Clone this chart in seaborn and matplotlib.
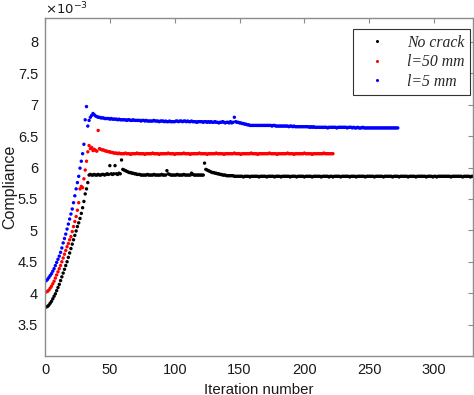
import numpy as np
import pandas as pd
import matplotlib
matplotlib.use("Agg")
import matplotlib.pyplot as plt
from matplotlib.lines import Line2D
import seaborn as sns

# ---------------- data (compliance in units of 1e-3) ----------------
no_crack = [
    3.78,3.78,3.79,3.81,3.84,3.87,3.91,3.95,3.99,4.04,
    4.09,4.14,4.20,4.26,4.32,4.38,4.44,4.50,4.57,4.64,
    4.71,4.78,4.85,4.92,4.99,5.06,5.12,5.19,5.27,5.36,
    5.46,5.58,5.66,5.76,5.88,5.89,5.88,5.88,5.89,5.88,
    5.88,5.89,5.88,5.88,5.89,5.89,5.88,5.89,5.90,5.89,
    6.03,5.90,5.89,5.90,6.03,5.90,5.89,5.91,5.90,6.12,
    5.97,5.96,5.95,5.94,5.93,5.92,5.92,5.91,5.91,5.90,
    5.90,5.89,5.89,5.89,5.88,5.88,5.88,5.88,5.88,5.89,
    5.88,5.88,5.88,5.88,5.89,5.88,5.88,5.88,5.88,5.88,
    5.89,5.88,5.88,5.88,5.95,5.90,5.89,5.88,5.88,5.88,
    5.88,5.88,5.89,5.88,5.88,5.88,5.88,5.89,5.88,5.88,
    5.88,5.88,5.88,5.91,5.89,5.88,5.88,5.88,5.88,5.88,
    5.88,5.88,5.88,6.07,5.97,5.96,5.95,5.94,5.93,5.92,
    5.92,5.91,5.91,5.90,5.90,5.89,5.89,5.88,5.88,5.88,
    5.87,5.87,5.87,5.87,5.87,5.87,5.86,5.86,5.86,5.86,
    5.86,5.86,5.86,5.85,5.86,5.86,5.86,5.86,5.85,5.86,
    5.86,5.86,5.86,5.86,5.86,5.85,5.86,5.86,5.86,5.86,
    5.86,5.85,5.86,5.86,5.86,5.86,5.86,5.85,5.86,5.86,
    5.86,5.86,5.85,5.86,5.86,5.86,5.86,5.86,5.86,5.85,
    5.86,5.86,5.86,5.86,5.85,5.86,5.86,5.86,5.86,5.86,
    5.85,5.86,5.86,5.86,5.86,5.86,5.85,5.86,5.86,5.86,
    5.86,5.86,5.86,5.85,5.86,5.86,5.86,5.86,5.86,5.85,
    5.86,5.86,5.85,5.86,5.86,5.86,5.86,5.86,5.85,5.86,
    5.86,5.86,5.86,5.86,5.86,5.85,5.86,5.86,5.86,5.86,
    5.85,5.86,5.86,5.86,5.86,5.86,5.86,5.85,5.86,5.86,
    5.86,5.86,5.86,5.86,5.85,5.86,5.86,5.86,5.86,5.86,
    5.86,5.85,5.86,5.86,5.86,5.86,5.86,5.86,5.85,5.86,
    5.86,5.86,5.86,5.85,5.86,5.86,5.86,5.86,5.86,5.86,
    5.85,5.86,5.86,5.86,5.86,5.86,5.85,5.86,5.86,5.86,
    5.86,5.86,5.86,5.86,5.85,5.86,5.86,5.86,5.86,5.85,
    5.86,5.86,5.85,5.86,5.86,5.86,5.86,5.86,5.86,5.86,
    5.86,5.86,5.86,5.85,5.86,5.86,5.86,5.86,5.86,5.86,
    5.86,5.86,5.85,5.86,5.86,5.86,5.86,5.86,5.85,5.86,
    5.86,
]

crack_50 = [
    4.02,4.02,4.03,4.05,4.08,4.11,4.15,4.19,4.24,4.29,
    4.34,4.39,4.44,4.50,4.56,4.62,4.68,4.74,4.79,4.85,
    4.90,4.98,5.06,5.14,5.22,5.32,5.44,5.66,5.70,5.68,
    5.82,5.96,6.10,6.25,6.35,6.30,6.32,6.27,6.29,6.27,
    6.26,6.59,6.30,6.29,6.28,6.28,6.27,6.26,6.26,6.25,
    6.25,6.24,6.24,6.23,6.23,6.23,6.22,6.23,6.22,6.22,
    6.22,6.22,6.23,6.22,6.22,6.22,6.21,6.22,6.22,6.22,
    6.22,6.23,6.22,6.22,6.22,6.22,6.22,6.21,6.22,6.22,
    6.22,6.22,6.22,6.23,6.22,6.22,6.22,6.22,6.21,6.22,
    6.22,6.22,6.22,6.22,6.22,6.23,6.22,6.22,6.22,6.22,
    6.21,6.22,6.22,6.22,6.22,6.22,6.22,6.23,6.22,6.22,
    6.22,6.22,6.21,6.22,6.22,6.22,6.22,6.22,6.22,6.23,
    6.22,6.22,6.22,6.22,6.22,6.21,6.22,6.22,6.22,6.22,
    6.22,6.22,6.23,6.22,6.22,6.22,6.22,6.22,6.21,6.22,
    6.22,6.22,6.22,6.22,6.22,6.22,6.23,6.22,6.22,6.22,
    6.22,6.21,6.22,6.22,6.22,6.22,6.22,6.22,6.22,6.23,
    6.22,6.22,6.22,6.22,6.21,6.22,6.22,6.22,6.22,6.22,
    6.22,6.22,6.22,6.23,6.22,6.22,6.22,6.22,6.22,6.21,
    6.22,6.22,6.22,6.22,6.22,6.22,6.22,6.23,6.22,6.22,
    6.22,6.22,6.21,6.22,6.22,6.22,6.22,6.22,6.22,6.22,
    6.23,6.22,6.22,6.22,6.22,6.22,6.21,6.22,6.22,6.22,
    6.22,6.22,6.22,6.22,6.22,6.23,6.22,6.22,6.22,6.22,
    6.22,6.22,6.22,
]

crack_5 = [
    4.19,4.20,4.22,4.25,4.28,4.31,4.35,4.39,4.44,4.49,
    4.54,4.59,4.65,4.72,4.80,4.87,4.94,5.02,5.10,5.18,
    5.26,5.34,5.44,5.55,5.66,5.76,5.86,5.99,6.10,6.22,
    6.37,6.76,6.97,6.66,6.75,6.80,6.83,6.86,6.84,6.82,
    6.81,6.80,6.80,6.79,6.79,6.79,6.78,6.78,6.78,6.78,
    6.77,6.78,6.77,6.77,6.77,6.77,6.76,6.77,6.76,6.76,
    6.76,6.76,6.76,6.75,6.76,6.76,6.75,6.75,6.76,6.75,
    6.75,6.75,6.75,6.75,6.74,6.75,6.75,6.74,6.75,6.74,
    6.74,6.74,6.74,6.74,6.75,6.74,6.74,6.74,6.73,6.74,
    6.74,6.74,6.73,6.74,6.73,6.73,6.74,6.73,6.73,6.73,
    6.73,6.74,6.74,6.73,6.74,6.74,6.73,6.74,6.74,6.73,
    6.74,6.73,6.73,6.74,6.73,6.73,6.73,6.72,6.73,6.73,
    6.73,6.73,6.72,6.73,6.73,6.72,6.73,6.72,6.73,6.72,
    6.72,6.73,6.72,6.72,6.71,6.72,6.72,6.73,6.72,6.71,
    6.72,6.72,6.71,6.73,6.71,6.72,6.80,6.73,6.72,6.72,
    6.71,6.71,6.70,6.70,6.69,6.69,6.68,6.68,6.67,6.67,
    6.67,6.67,6.67,6.67,6.67,6.67,6.67,6.67,6.67,6.67,
    6.67,6.67,6.67,6.67,6.67,6.66,6.67,6.67,6.66,6.66,
    6.66,6.66,6.66,6.66,6.66,6.66,6.66,6.66,6.65,6.66,
    6.66,6.65,6.66,6.65,6.65,6.65,6.65,6.65,6.65,6.65,
    6.65,6.65,6.65,6.65,6.64,6.65,6.64,6.65,6.64,6.64,
    6.64,6.64,6.64,6.64,6.64,6.64,6.64,6.64,6.63,6.64,
    6.64,6.64,6.64,6.64,6.64,6.63,6.64,6.64,6.64,6.64,
    6.64,6.64,6.64,6.63,6.64,6.64,6.64,6.63,6.64,6.63,
    6.63,6.64,6.63,6.63,6.63,6.64,6.63,6.63,6.63,6.63,
    6.63,6.63,6.63,6.63,6.63,6.63,6.63,6.63,6.63,6.63,
    6.63,6.63,6.63,6.63,6.63,6.63,6.63,6.63,6.63,6.63,
    6.63,6.63,6.63,
]

series_names = ["No crack", "l=50 mm", "l=5 mm"]
series_colors = ["#000000", "#ff0000", "#0000ff"]
x_ticks = [0, 50, 100, 150, 200, 250, 300]
y_ticks = [3.5, 4, 4.5, 5, 5.5, 6, 6.5, 7, 7.5, 8]
y_tick_labels = ["3.5", "4", "4.5", "5", "5.5", "6", "6.5", "7", "7.5", "8"]

frames = []
for name, vals in zip(series_names, [no_crack, crack_50, crack_5]):
    frames.append(pd.DataFrame({"Iteration": np.arange(len(vals)),
                                "Compliance": vals, "Case": name}))
df = pd.concat(frames, ignore_index=True)

# ---------------- figure ----------------
sns.set_style("white")
plt.rcParams["font.family"] = ["Liberation Sans", "DejaVu Sans"]

fig = plt.figure(figsize=(4.74, 3.95), dpi=100)
ax = fig.add_axes([45/474, 39/395, 428/474, 338/395])

sns.scatterplot(data=df, x="Iteration", y="Compliance", hue="Case",
                hue_order=series_names, palette=series_colors,
                s=6, linewidth=0, legend=False, ax=ax)

ax.set_xlim(0, 330)
ax.set_ylim(3, 8.38)
ax.set_xticks(x_ticks)
ax.set_yticks(y_ticks)
ax.set_yticklabels(y_tick_labels)

spine_col = "#8c8c8c"
for sp in ax.spines.values():
    sp.set_visible(True)
    sp.set_color(spine_col)
    sp.set_linewidth(1.0)
ax.tick_params(direction="in", length=3.5, width=0.8, color=spine_col,
               top=True, right=True, labelsize=10.5, labelcolor="#1a1a1a",
               pad=5)

ax.set_xlabel("Iteration number", fontsize=10.8, color="#1a1a1a", labelpad=4)
ax.set_ylabel("Compliance", fontsize=11.5, color="#1a1a1a")
ax.yaxis.set_label_coords(-0.066, 0.5)

ax.text(0.0, 1.002, r"$\times10^{-3}$", transform=ax.transAxes,
        ha="left", va="bottom", fontsize=9.5, color="#1a1a1a",
        fontfamily="Liberation Sans")

handles = [Line2D([0], [0], marker="o", linestyle="none", markersize=2.2,
                  markerfacecolor=c, markeredgewidth=0) for c in series_colors]
leg = ax.legend(handles, series_names, loc="upper right",
                bbox_to_anchor=(0.993, 0.967), borderaxespad=0,
                frameon=True, fancybox=False,
                edgecolor="#333333", framealpha=1, handlelength=2.4,
                handletextpad=0.7, borderpad=0.35, labelspacing=0.22,
                prop={"family": "Liberation Serif", "style": "italic",
                      "size": 11.3})
leg.get_frame().set_linewidth(0.8)

fig.savefig("out.png", dpi=100)
